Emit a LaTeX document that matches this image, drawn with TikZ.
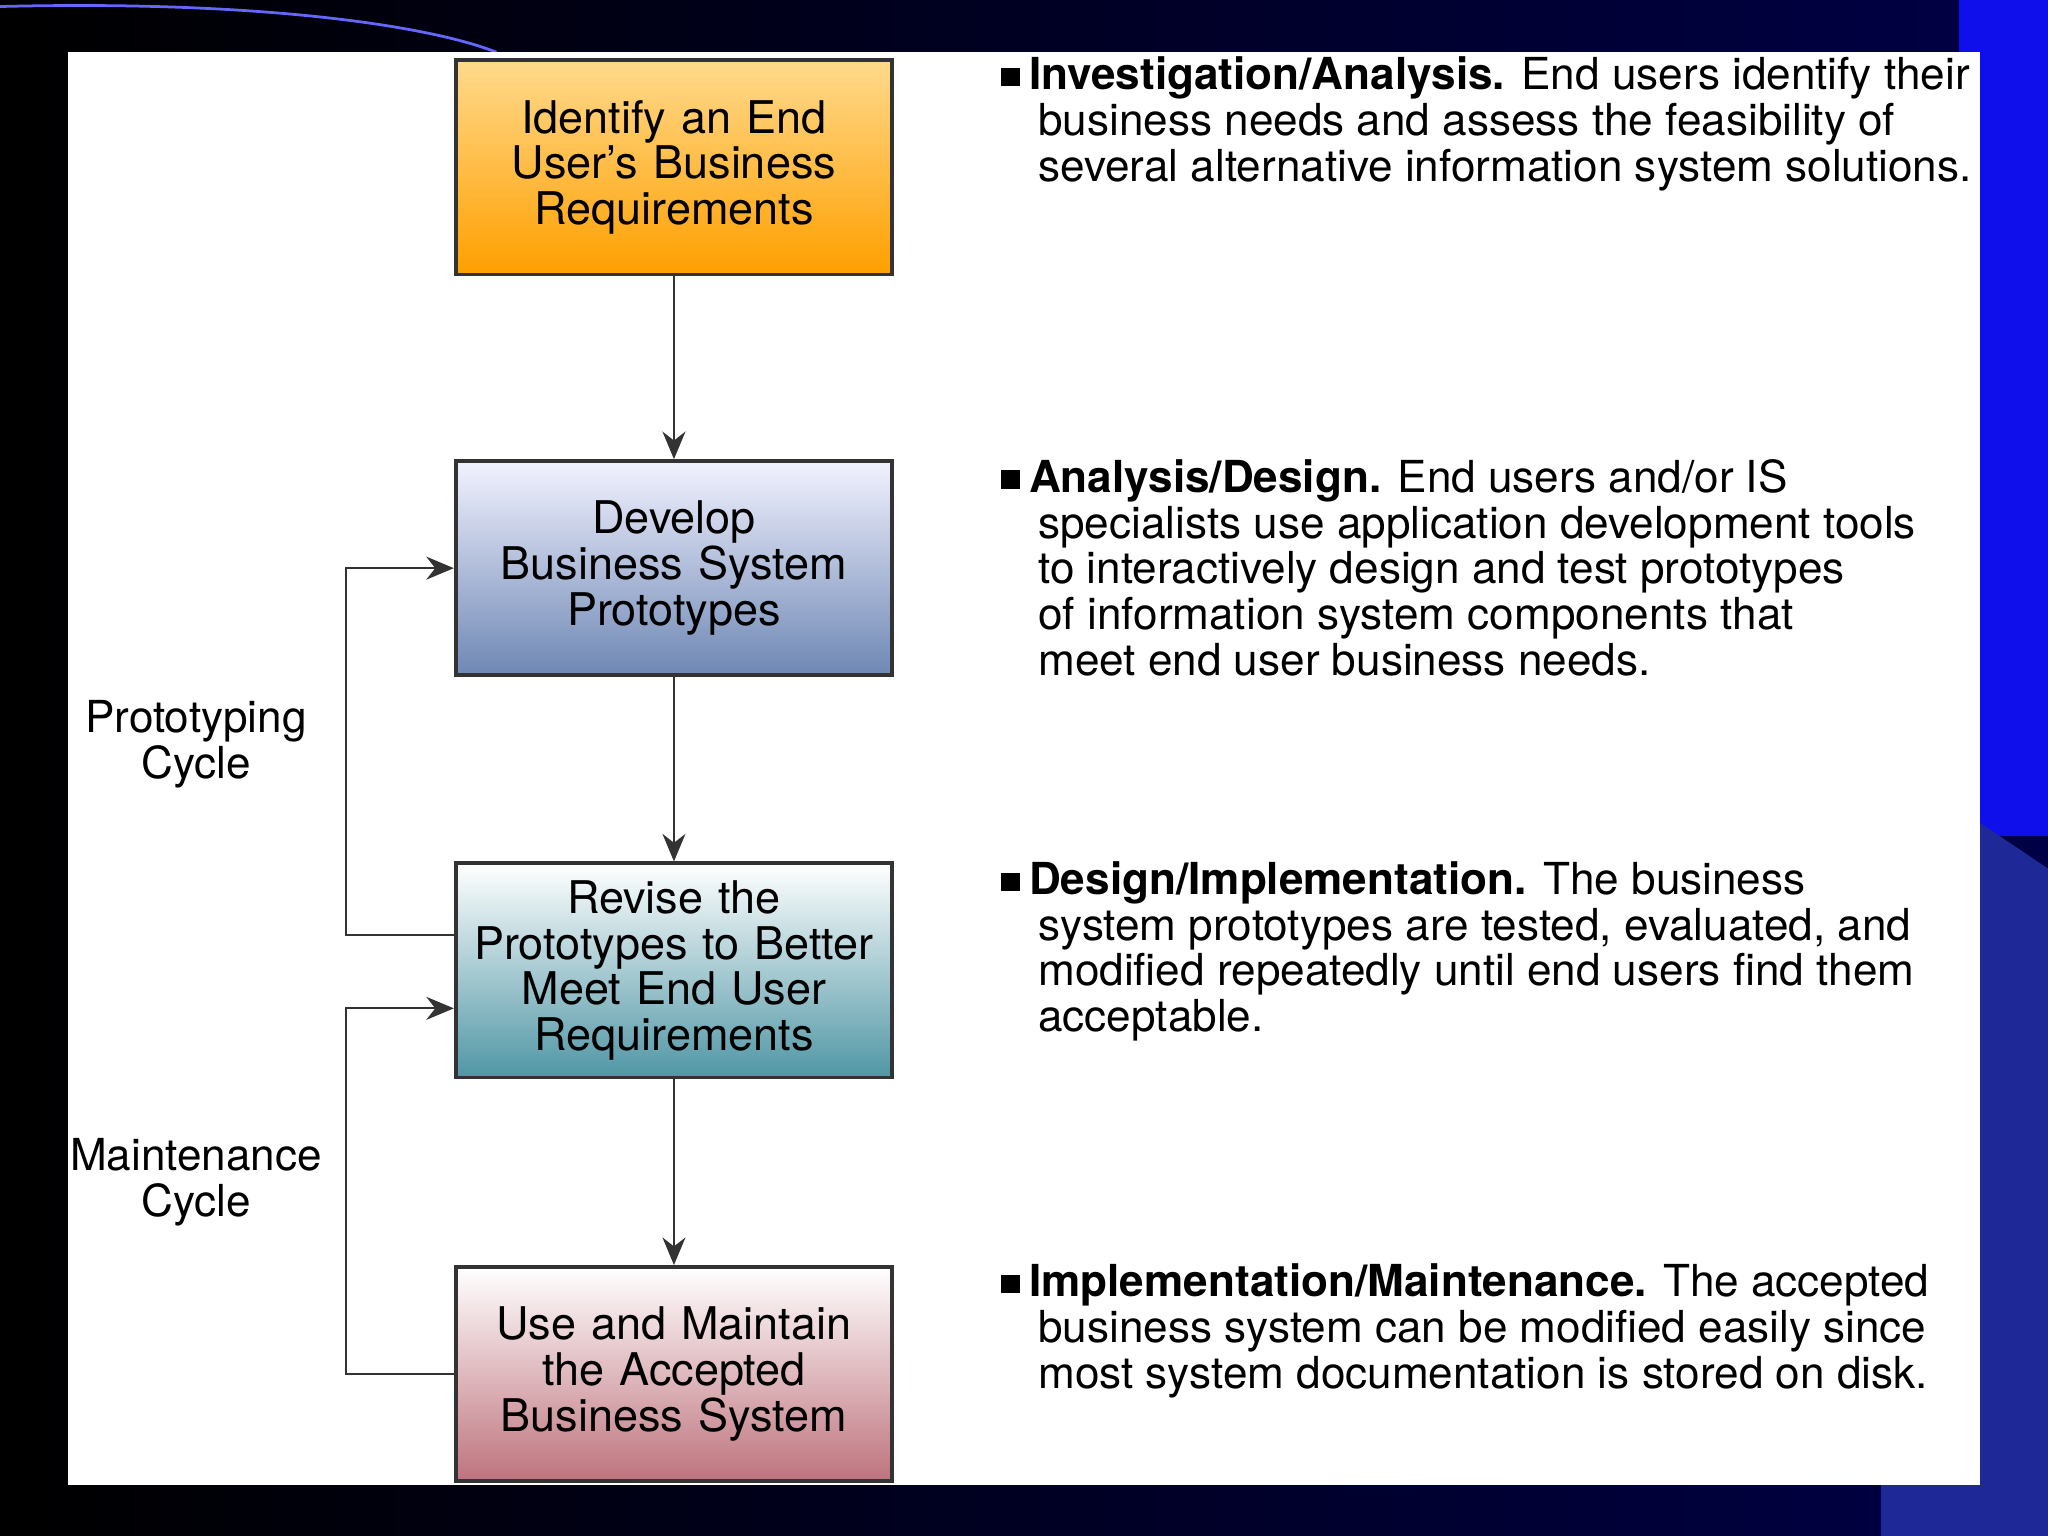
\documentclass[tikz,border=0pt]{standalone}
\usepackage{fontspec}
\setmainfont{TeX Gyre Heros}
\usetikzlibrary{positioning, arrows.meta}

\definecolor{navy}{RGB}{0,0,70}
\definecolor{brightblue}{RGB}{15,15,235}
\definecolor{deepblue}{RGB}{30,40,150}

\newcommand{\sqbul}{\rule[0.15ex]{0.8ex}{0.8ex}\hspace{0.4ex}}

\begin{document}
\begin{tikzpicture}[
		x=0.01cm, y=-0.01cm,
		font=\fontsize{9.6}{9.95}\selectfont,
		stage/.style={draw=black!80, line width=0.8pt, minimum width=3.34cm, minimum height=1.64cm,
			text width=3.2cm, inner sep=0pt, align=center, shading=axis, shading angle=0,
			font=\fontsize{9.8}{9.95}\selectfont},
		flow/.style={-{Stealth[length=6pt,width=5pt]}, line width=0.5pt, black!80},
		note/.style={anchor=north west, align=left, inner sep=0pt}
	]
	% background
	\useasboundingbox (0,0) rectangle (1568,1176);
	\shade[left color=black, right color=navy] (0,0) rectangle (1568,1176);
	\fill[brightblue] (1500,0) rectangle (1568,640);
	\fill[deepblue] (1516,630) -- (1568,665) -- (1568,1176) -- (1440,1176) -- (1440,1137) -- (1516,1137) -- cycle;
	\draw[blue!60, line width=0.6pt] (0,5) .. controls (200,0) and (330,20) .. (380,40);
	\fill[white] (52,40) rectangle (1516,1137);
	
	% stages
	\node[stage, top color=yellow!35!orange!45, bottom color=orange!75!yellow] (need) at (516,128)
		{Identify an End\\User’s Business\\Requirements};
	\node[stage, top color=blue!5, bottom color={rgb,255:red,110;green,135;blue,180}] (proto) at (516,435)
		{Develop\\Business System\\Prototypes};
	\node[stage, top color=white, bottom color={rgb,255:red,80;green,150;blue,165}] (revise) at (516,743)
		{Revise the\\Prototypes to Better\\Meet End User\\Requirements};
	\node[stage, top color=white, bottom color={rgb,255:red,190;green,115;blue,125}] (use) at (516,1052)
		{Use and Maintain\\the Accepted\\Business System};
	
	\draw[flow] (need) -- (proto);
	\draw[flow] (proto) -- (revise);
	\draw[flow] (revise) -- (use);
	
	% cycles
	\coordinate (pc) at (265,0);
	\coordinate (rtop) at ([yshift=0.27cm]revise.west);
	\coordinate (rbot) at ([yshift=-0.29cm]revise.west);
	\draw[flow] (rtop) -| (pc |- proto.west) -- (proto.west);
	\draw[flow] (use.west) -| (pc |- rbot) -- (rbot);
	\node[align=center] (pclabel) at (150,570) {Prototyping\\Cycle};
	\node[align=center] (mclabel) at (150,905) {Maintenance\\Cycle};
	
	% descriptions
	\node[note] (n1) at (766,43) {\sqbul\textbf{Investigation/Analysis.} End users identify their\\
		\hspace{1.6ex}business needs and assess the feasibility of\\
		\hspace{1.6ex}several alternative information system solutions.};
	\node[note] (n2) at (766,351) {\sqbul\textbf{Analysis/Design.} End users and/or IS\\
		\hspace{1.6ex}specialists use application development tools\\
		\hspace{1.6ex}to interactively design and test prototypes\\
		\hspace{1.6ex}of information system components that\\
		\hspace{1.6ex}meet end user business needs.};
	\node[note] (n3) at (766,659) {\sqbul\textbf{Design/Implementation.} The business\\
		\hspace{1.6ex}system prototypes are tested, evaluated, and\\
		\hspace{1.6ex}modified repeatedly until end users find them\\
		\hspace{1.6ex}acceptable.};
	\node[note] (n4) at (766,967) {\sqbul\textbf{Implementation/Maintenance.} The accepted\\
		\hspace{1.6ex}business system can be modified easily since\\
		\hspace{1.6ex}most system documentation is stored on disk.};
\end{tikzpicture}
\end{document}
